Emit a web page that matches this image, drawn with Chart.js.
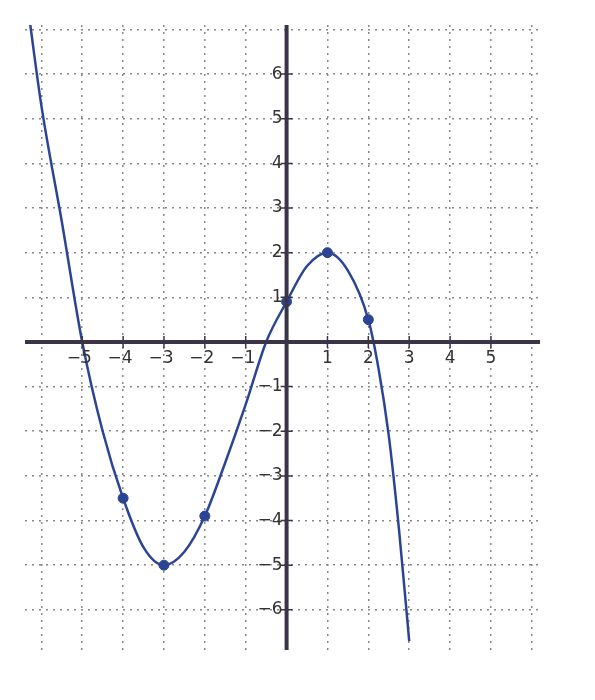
<!DOCTYPE html>
<html><head><meta charset="utf-8">
<script src="https://cdn.jsdelivr.net/npm/chart.js@4"></script>
<style>body{margin:0;background:#fff}#wrap{width:595px;height:700px}</style>
</head><body><div id="wrap"><canvas id="c"></canvas></div>
<script>
// curve
const curveX = [-6.3, -6, -5.5, -5, -4.5, -4, -3.5, -3, -2.5, -2, -1.5, -1, -0.5, 0, 0.5, 1, 1.5, 2, 2.25, 2.5, 2.75, 3];
const curveY = [7.3, 5.3, 2.7, 0, -2.0, -3.5, -4.6, -5.0, -4.7, -3.9, -2.7, -1.4, 0.0, 0.9, 1.7, 2.0, 1.6, 0.5, -0.6, -2.1, -4.2, -6.7];
const dotX = [-4, -3, -2, 0, 1, 2];
const dotY = [-3.5, -5, -3.9, 0.9, 2, 0.5];
const xTicks = [-5, -4, -3, -2, -1, 1, 2, 3, 4, 5];
const yTicks = [-6, -5, -4, -3, -2, -1, 1, 2, 3, 4, 5, 6];

const lineColor = '#2b4594';
const label = v => String(v).replace('-', '\u2212');

const axesPlugin = {
    id: 'axes',
    afterDatasetsDraw(chart) {
        const {ctx, scales: {x, y}, chartArea: a} = chart;
        const x0 = x.getPixelForValue(0), y0 = y.getPixelForValue(0);
        ctx.save();
        ctx.strokeStyle = '#3b3448';
        ctx.lineWidth = 4;
        ctx.beginPath();
        ctx.moveTo(a.left, y0); ctx.lineTo(a.right, y0);
        ctx.moveTo(x0, a.top); ctx.lineTo(x0, a.bottom);
        ctx.stroke();
        ctx.lineWidth = 1.5;
        ctx.beginPath();
        xTicks.forEach(v => { const p = x.getPixelForValue(v); ctx.moveTo(p, y0 - 6); ctx.lineTo(p, y0 + 6); });
        yTicks.forEach(v => { const p = y.getPixelForValue(v); ctx.moveTo(x0 - 6, p); ctx.lineTo(x0 + 6, p); });
        ctx.stroke();
        ctx.fillStyle = '#333';
        ctx.font = '17px "DejaVu Sans"';
        ctx.textAlign = 'center'; ctx.textBaseline = 'top';
        xTicks.forEach(v => ctx.fillText(label(v), x.getPixelForValue(v) - (v < 0 ? 3 : 0), y0 + 8));
        ctx.textAlign = 'right'; ctx.textBaseline = 'middle';
        yTicks.forEach(v => ctx.fillText(label(v), x0 - 4, y.getPixelForValue(v)));
        ctx.restore();
    }
};

new Chart(document.getElementById('c'), {
    type: 'scatter',
    data: {
        datasets: [{
            data: curveX.map((v, i) => ({x: v, y: curveY[i]})),
            showLine: true,
            borderColor: lineColor,
            borderWidth: 2.5,
            pointRadius: 0,
            tension: 0.4,
            cubicInterpolationMode: 'monotone'
        }, {
            data: dotX.map((v, i) => ({x: v, y: dotY[i]})),
            backgroundColor: lineColor,
            borderColor: lineColor,
            pointRadius: 5
        }]
    },
    options: {
        responsive: true,
        maintainAspectRatio: false,
        animation: false,
        layout: {padding: {left: 25, right: 55, top: 25, bottom: 50}},
        plugins: {legend: {display: false}, tooltip: {enabled: false}},
        scales: {
            x: {
                min: -6.4, max: 6.2,
                ticks: {display: false},
                afterBuildTicks: s => { s.ticks = []; for (let v = -6; v <= 6; v += 1) s.ticks.push({value: v}); },
                grid: {color: '#888', lineWidth: 1.5, drawTicks: false},
                border: {display: false, dash: [2, 5]}
            },
            y: {
                min: -6.9, max: 7.1,
                ticks: {display: false},
                afterBuildTicks: s => { s.ticks = []; for (let v = -6; v <= 7; v += 1) s.ticks.push({value: v}); },
                grid: {color: '#888', lineWidth: 1.5, drawTicks: false},
                border: {display: false, dash: [2, 5]}
            }
        }
    },
    plugins: [axesPlugin]
});
</script></body></html>
